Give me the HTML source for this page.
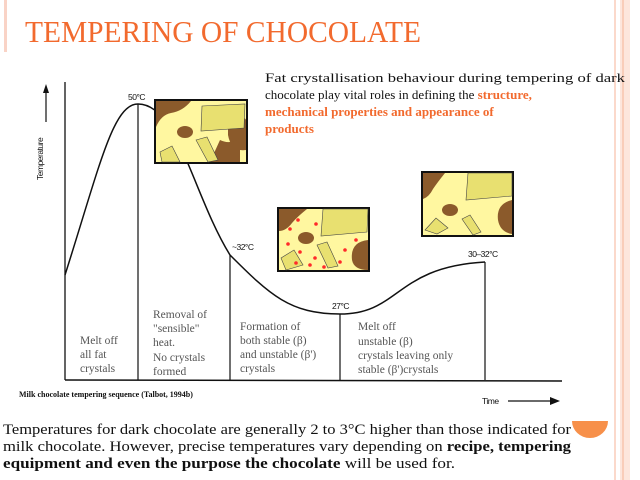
<!DOCTYPE html>
<html><head><meta charset="utf-8"><style>
html,body{margin:0;padding:0;background:#fff;}
svg{display:block;}
.lbl{font-family:"Liberation Serif",serif;font-size:11.5px;fill:#555;}
.tmp{font-family:"Liberation Sans",sans-serif;font-size:8.5px;fill:#111;letter-spacing:-0.5px;}
</style></head><body>
<svg width="640" height="480" viewBox="0 0 640 480" xmlns="http://www.w3.org/2000/svg">
<rect x="4" y="0" width="3" height="52" fill="#f9d3c6"/>
<rect x="614" y="0" width="2" height="480" fill="#fbd9cb"/>
<rect x="620" y="0" width="10" height="480" fill="#fde6dc"/>
<rect x="622" y="0" width="2" height="480" fill="#f9cdb9"/>
<text x="25" y="42" font-family="Liberation Serif,serif" font-size="31" fill="#f26a2e" textLength="396" lengthAdjust="spacingAndGlyphs">TEMPERING OF CHOCOLATE</text>

<g font-family="Liberation Serif,serif" font-size="13" fill="#111">
<text x="265" y="82" textLength="360" lengthAdjust="spacingAndGlyphs">Fat crystallisation behaviour during tempering of dark</text>
<text x="265" y="99">chocolate play vital roles in defining the <tspan fill="#f26a2e" font-weight="bold">structure,</tspan></text>
<text x="265" y="116" fill="#f26a2e" font-weight="bold">mechanical properties and appearance of</text>
<text x="265" y="133" fill="#f26a2e" font-weight="bold">products</text>
</g>

<g stroke="#111" fill="none">
<line x1="65" y1="82" x2="65" y2="380" stroke-width="1.3"/>
<line x1="65" y1="380" x2="562" y2="381" stroke-width="1.5"/>
<line x1="46" y1="122" x2="46" y2="90" stroke-width="1.2"/>
<polygon points="46,84 43,93 49,93" fill="#111" stroke="none"/>
<line x1="508" y1="401" x2="552" y2="401" stroke-width="1.2"/>
<polygon points="560,401 550,397 550,405" fill="#111" stroke="none"/>
<path id="curve" stroke-width="1.5"/>
<g id="dividers" stroke-width="1.2"></g>
</g>
<text x="43" y="180" transform="rotate(-90 43 180)" class="tmp">Temperature</text>
<text x="482" y="404" class="tmp">Time</text>
<g id="templabels"></g>

<g>
<rect x="155" y="100" width="92" height="63" fill="#fff7a0" stroke="#111" stroke-width="2"/>
<path d="M156,101 h35 q-8,10 -20,12 q-10,2 -15,14 z" fill="#8b5a2b"/>
<path d="M228,120 q18,-4 18,0 v30 q-15,2 -18,-15 z" fill="#8b5a2b"/>
<path d="M220,140 q10,5 20,-2 v24 h-30 z" fill="#8b5a2b"/>
<ellipse cx="185" cy="132" rx="8" ry="6" fill="#8b5a2b"/>
<polygon points="202,106 245,104 244,128 201,131" fill="#e8e070" stroke="#444" stroke-width="0.6"/>
<polygon points="196,140 207,137 218,160 208,162" fill="#e8e070" stroke="#444" stroke-width="0.6"/>
<polygon points="160,152 172,146 180,162 162,162" fill="#e8e070" stroke="#444" stroke-width="0.6"/>
</g>
<g>
<rect x="278" y="208" width="91" height="63" fill="#fff7a0" stroke="#111" stroke-width="2"/>
<path d="M279,209 h28 q-10,8 -15,14 q-6,8 -13,8 z" fill="#8b5a2b"/>
<path d="M368,240 q-18,2 -16,20 q2,10 16,10 z" fill="#8b5a2b"/>
<ellipse cx="306" cy="238" rx="8" ry="6" fill="#8b5a2b"/>
<polygon points="323,209 368,209 367,232 321,236" fill="#e8e070" stroke="#444" stroke-width="0.6"/>
<polygon points="317,245 327,242 338,266 328,268" fill="#e8e070" stroke="#444" stroke-width="0.6"/>
<polygon points="281,258 294,250 303,265 286,270" fill="#e8e070" stroke="#444" stroke-width="0.6"/>
<g fill="#ff2a2a"><circle cx="298" cy="220" r="1.8"/><circle cx="290" cy="229" r="1.8"/><circle cx="316" cy="224" r="1.8"/><circle cx="288" cy="244" r="1.8"/><circle cx="300" cy="252" r="1.8"/><circle cx="315" cy="258" r="1.8"/><circle cx="310" cy="265" r="1.8"/><circle cx="324" cy="267" r="1.8"/><circle cx="345" cy="250" r="1.8"/><circle cx="340" cy="262" r="1.8"/><circle cx="356" cy="240" r="1.8"/><circle cx="296" cy="263" r="1.8"/></g>
</g>
<g>
<rect x="422" y="172" width="91" height="64" fill="#fff7a0" stroke="#111" stroke-width="2"/>
<path d="M423,173 h22 q-8,10 -12,16 q-4,8 -10,10 z" fill="#8b5a2b"/>
<path d="M512,200 q-16,4 -14,20 q2,12 14,14 z" fill="#8b5a2b"/>
<ellipse cx="450" cy="210" rx="8" ry="6" fill="#8b5a2b"/>
<polygon points="468,173 512,173 512,196 466,200" fill="#e8e070" stroke="#444" stroke-width="0.6"/>
<polygon points="462,219 470,215 481,232 473,235" fill="#e8e070" stroke="#444" stroke-width="0.6"/>
<polygon points="425,230 436,218 448,228 437,234" fill="#e8e070" stroke="#444" stroke-width="0.6"/>
</g>

<g>
<text class="lbl" x="80" y="344">Melt off</text><text class="lbl" x="80" y="358">all fat</text><text class="lbl" x="80" y="372">crystals</text>
<text class="lbl" x="153" y="318">Removal of</text><text class="lbl" x="153" y="332">"sensible"</text><text class="lbl" x="153" y="346">heat.</text><text class="lbl" x="153" y="361">No crystals</text><text class="lbl" x="153" y="375">formed</text>
<text class="lbl" x="240" y="330">Formation of</text><text class="lbl" x="240" y="344">both stable (β)</text><text class="lbl" x="240" y="358">and unstable (β')</text><text class="lbl" x="240" y="372">crystals</text>
<text class="lbl" x="358" y="330">Melt off</text><text class="lbl" x="358" y="345">unstable (β)</text><text class="lbl" x="358" y="359">crystals leaving only</text><text class="lbl" x="358" y="373">stable (β')crystals</text>
</g>
<text x="19" y="397" font-family="Liberation Serif,serif" font-size="8" font-weight="bold" fill="#111">Milk chocolate tempering sequence (Talbot, 1994b)</text>

<path d="M572,421 h36 a18,17 0 0 1 -36,0 z" fill="#f7904a"/>
<g font-family="Liberation Serif,serif" font-size="15" fill="#111">
<text x="3" y="434" textLength="568" lengthAdjust="spacingAndGlyphs">Temperatures for dark chocolate are generally 2 to 3°C higher than those indicated for</text>
<text x="3" y="451" textLength="568" lengthAdjust="spacingAndGlyphs">milk chocolate. However, precise temperatures vary depending on <tspan font-weight="bold">recipe, tempering</tspan></text>
<text x="3" y="468" textLength="452" lengthAdjust="spacingAndGlyphs"><tspan font-weight="bold">equipment and even the purpose the chocolate</tspan> will be used for.</text>
</g>
</svg>
<script>
// key curve points: time position (px) and temperature label
const stageX = [65, 138, 230, 340, 485];
const stageY = [275, 104, 255, 314, 262];
const stageLabels = ["", "50°C", "~32°C", "27°C", "30–32°C"];
const c = document.getElementById('curve');
c.setAttribute('d', `M${stageX[0]},${stageY[0]} C${stageX[0]+35},${stageY[0]-110} ${stageX[1]-25},${stageY[1]} ${stageX[1]},${stageY[1]} C${stageX[1]+40},${stageY[1]} ${stageX[1]+55},${stageY[2]-60} ${stageX[2]},${stageY[2]} C${stageX[2]+40},${stageY[2]+40} ${stageX[3]-50},${stageY[3]} ${stageX[3]},${stageY[3]} C${stageX[3]+60},${stageY[3]} ${stageX[3]+55},${stageY[4]+5} ${stageX[4]},${stageY[4]}`);
const dv = document.getElementById('dividers');
const tl = document.getElementById('templabels');
const ns = 'http://www.w3.org/2000/svg';
for (let i = 1; i < stageX.length; i++) {
  const l = document.createElementNS(ns, 'line');
  
  
  l.setAttribute('x1', stageX[i]); l.setAttribute('x2', stageX[i]);
  l.setAttribute('y1', stageY[i]); l.setAttribute('y2', 380);
  dv.appendChild(l);
  const t = document.createElementNS(ns, 'text');
  
  
  t.setAttribute('class', 'tmp');
  const dx = [0, -10, 2, -8, -17][i], dy = [0, -4, -5, -5, -5][i];
  t.setAttribute('x', stageX[i] + dx); t.setAttribute('y', stageY[i] + dy);
  t.textContent = stageLabels[i];
  tl.appendChild(t);
}
</script>
</body></html>
